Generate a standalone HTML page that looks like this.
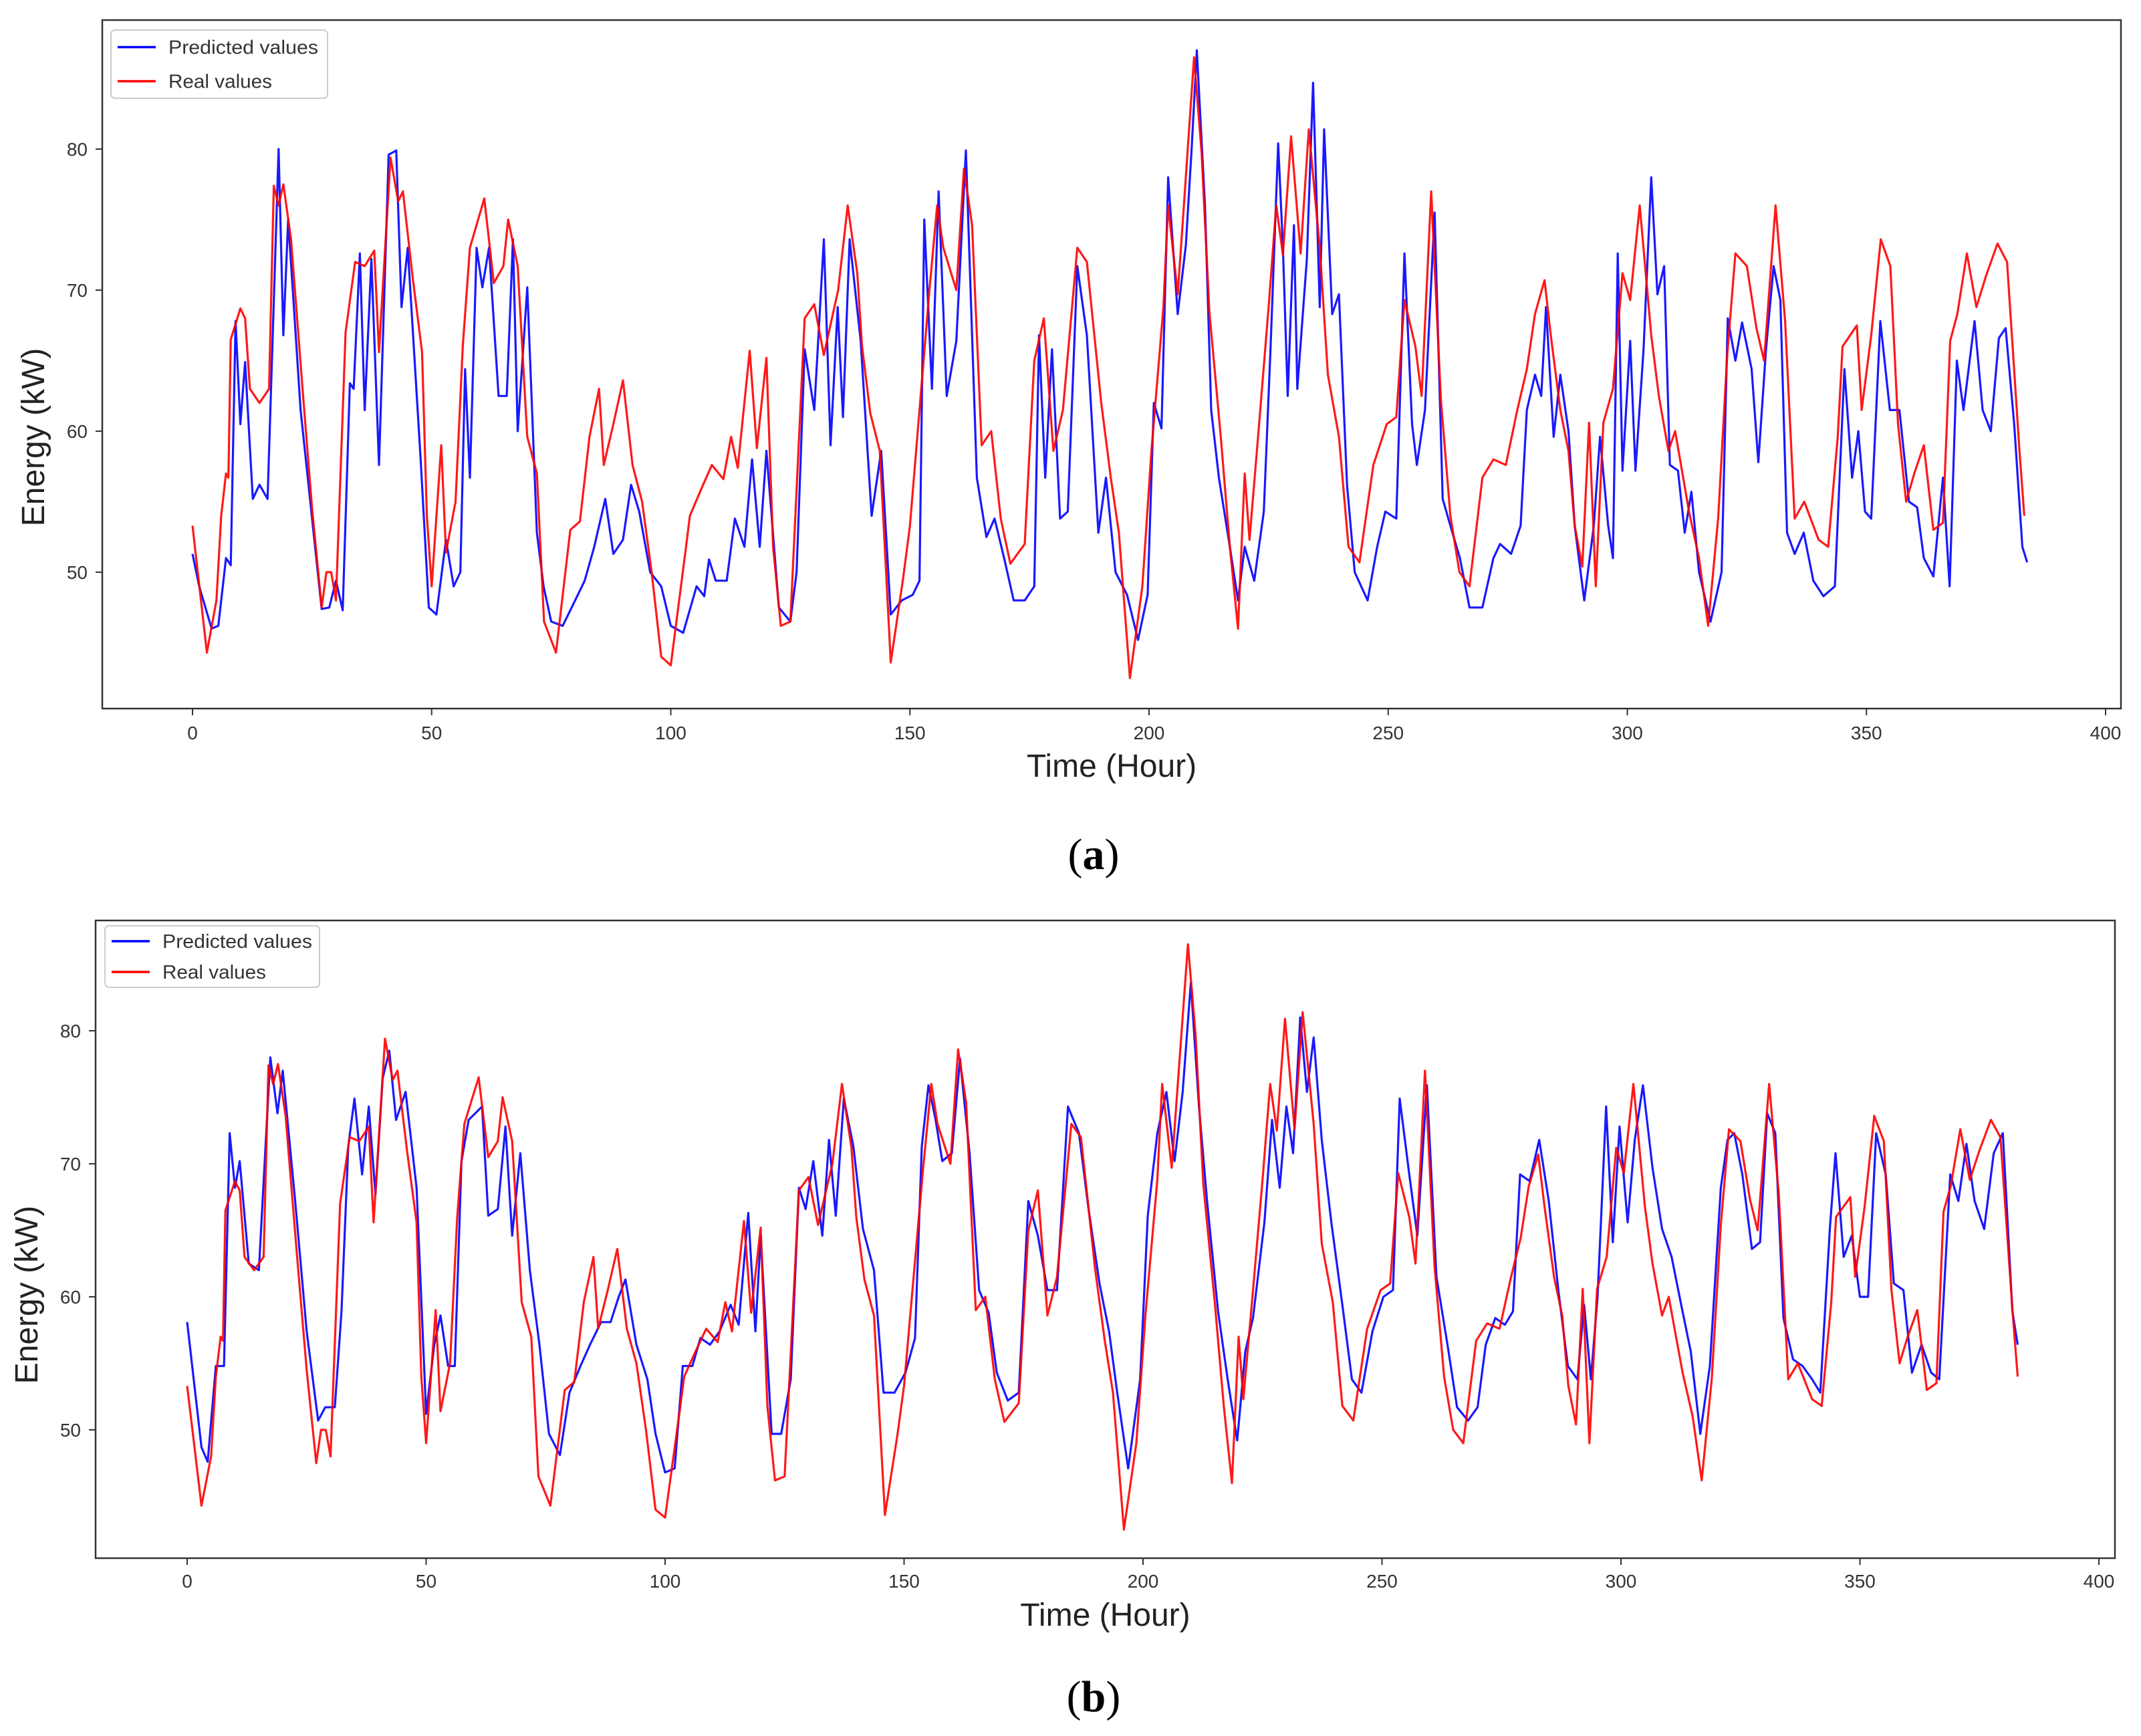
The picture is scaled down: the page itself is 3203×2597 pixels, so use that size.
<!DOCTYPE html>
<html><head><meta charset="utf-8">
<style>
html,body{margin:0;padding:0;background:#fff;}
svg{display:block;}
text{font-family:"Liberation Sans","DejaVu Sans",sans-serif;}
text.cap{font-family:"Liberation Serif",serif;}
</style></head>
<body>
<svg id="root" width="3203" height="2597" viewBox="0 0 3203 2597" xmlns="http://www.w3.org/2000/svg">
<rect width="3203" height="2597" fill="#fff"/>
</svg>
<script>
// ---- data ----
const xTicks = [0,50,100,150,200,250,300,350,400];
const yTicks = [50,60,70,80];
const realT = [0,3,5,6,7,7.5,8,10,11,12,14,16,17,18,19,20.6,23,25,27,28,29,30,32,34,36,38,39,41.4,43,44,46,48,49,50,52,53,55,56.5,58,61,63,65,66,68,70,72,73.5,76,79,81,83,85,86,88,90,92,94,96,98,100,103,104,106.5,108.6,111,112.6,114,116.5,118,120,121.4,123,125,128,130,132,135,137,139,140,141.7,143.7,146,148.6,150,152,154,155.7,157,159.7,161.3,163,165,167,169,171,174,176,178,180,182,185,187,190,192,193.7,196,198.6,200.5,203,204,206,207,209.4,211,212.6,215,216.9,218.6,220,221,222.9,225,226.6,228,229.7,231.7,233.4,235.7,237.4,239.7,241.7,244,246.9,249.7,251.7,253.4,255.7,257,259,261,263,264.9,267,269.7,272,274.6,277,279,280.7,282.7,284,286,287.7,289,290.6,292,293.4,295,297,299,300.6,302.6,305,306.6,308.6,310,312.9,315,316.9,319,320.9,322.6,325,327,328.6,331,333,335,337,340,342,344,345,348,349,351,353,355,356.6,358.3,360,362,364,366,367.5,369,371,373,375,377.4,379.4,382,383];
const realV = [53.3,44.3,48,54,57,56.7,66.5,68.7,68,63,62,63,77.4,76,77.5,73.6,63,54.5,47.5,50,50,48,67,72,71.7,72.8,65.6,79.4,76.3,77,71,65.6,54,49,59,51.4,55,66,73,76.5,70.5,71.7,75,71.7,59.6,57,46.5,44.3,53,53.6,59.6,63,57.6,60.5,63.6,57.6,55,50,44,43.4,51.3,54,56,57.6,56.6,59.6,57.4,65.7,58.8,65.2,51.8,46.2,46.5,68,69,65.4,70,76,71.2,66,61.3,58.6,43.6,49.6,53.3,61.5,69.7,76,73,70,78.6,74.6,59,60,53.8,50.6,52,65,68,58.6,61.5,73,72,62,56.7,52.8,42.5,49,58.6,68.8,76,69.7,74.6,86.5,79.7,68.5,59.6,51.8,46,57,52.3,60,68.8,76,72.5,80.9,72.6,81.4,73,64,59.6,51.8,50.7,57.6,60.5,61,69.3,66,62.5,77,62.3,54,50,49,56.7,58,57.6,61.5,64.4,68.3,70.7,66.8,61.5,58.6,53.3,50.4,60.6,49,60.6,63,71.2,69.3,76,66.8,62.5,58.6,60,54.3,51,46.2,53.8,65.4,72.6,71.7,67.3,65,76,67.8,53.8,55,52.3,51.8,59.6,66,67.5,61.5,66.8,73.6,71.7,60.5,55,57,59,53,53.5,66.4,68.3,72.6,68.8,71,73.3,72,58.6,54];
const predAT = [0,1.4,4,5.4,7,8,9,10,11,12.6,14,15.7,18,19,20,22.6,25,27,28.6,30,31.4,32.9,33.7,35,36,37.4,39,41,42.6,43.7,45,47.7,49.4,51,53,54.6,56,57,58,59.4,60.6,62,64,65.7,67,68,70,72,73.4,75,77.4,80,82,84,86.3,88,90,91.7,93.4,95.7,98,100,102.6,105.4,107,108,109.4,111.7,113.4,115.4,117,118.6,120,122.6,125,126.3,128,130,132,133.4,134.9,136,137.4,139.7,142,144,146,148.3,150.6,152,153,154.6,156,157.7,159.7,161.7,164,166,167.7,169.7,171.7,174,176,177,178.3,179.7,181.4,183,185,187,189.4,191,193,195.4,197.7,199.7,201,202.6,204,206,207.7,208.9,210,211.7,213,214.6,216.9,218.6,220,222,224,225.4,227,228,229,230.3,231,233,234.3,235.7,236.6,238.3,239.7,241.4,243,245.7,247.7,249.4,251.7,253.4,255,256,257.7,259.7,261.4,263,265,267,269.7,272,273.4,275.7,277.7,279,280.7,282,283,284.6,286,287.7,289,291,293,294.3,296,297,298,299,300.6,301.7,303.4,305,306.3,307.7,308.9,310.6,312,313.4,315,317.4,319.7,321,322.6,324,326,327.4,329,330.6,332,333.4,335,336.9,338.9,341,343.4,345.4,347,348.3,349.7,351,352.9,354.9,356.9,358.9,360.6,362,364,366,367.4,368.9,370.3,372.6,374.3,376,377.7,379.1,380.9,382.6,383.6];
const predAV = [51.3,49,46,46.2,51,50.5,67.8,60.5,64.9,55.2,56.2,55.2,80,66.8,75,61.5,53.8,47.4,47.5,49.4,47.3,63.4,63,72.6,61.5,72.2,57.6,79.6,79.9,68.8,73,58,47.5,47,52.3,49,50,64.4,56.7,73,70.2,73,62.5,62.5,73.6,60,70.2,52.8,49,46.5,46.2,48,49.4,51.8,55.2,51.3,52.3,56.2,54.3,50,49,46.2,45.7,49,48.3,50.9,49.4,49.4,53.8,51.8,58,51.8,58.6,47.5,46.5,50,65.8,61.5,73.6,59,68.8,61,73.6,66.4,54,58.6,47,48,48.4,49.4,75,63,77,62.5,66.4,79.9,56.7,52.5,53.8,51,48,48,49,66.8,56.7,65.8,53.8,54.3,71.7,66.8,52.8,56.7,50,48.4,45.2,48.4,62,60.2,78,68.3,73.2,80,87,76,61.5,56.7,51.8,48,51.8,49.4,54.3,65.8,80.4,73,62.5,74.6,63,72.2,84.7,68.8,81.4,68.3,69.7,56.2,50,48,51.8,54.3,53.8,72.6,60.5,57.6,61.5,75.5,55.2,53.3,51,47.5,47.5,51,52,51.3,53.3,61.5,64,62.5,68.8,59.6,64,60,53.3,48,53.3,59.6,53.3,51,72.6,57.2,66.4,57.2,65.8,78,69.7,71.7,57.6,57.2,52.8,55.7,50,46.5,50,68,65,67.7,64.4,57.8,65.8,71.7,69.3,52.8,51.3,52.8,49.4,48.3,49,64.4,56.7,60,54.3,53.8,67.8,61.5,61.5,55,54.6,51,49.7,56.7,49,65,61.5,67.8,61.5,60,66.6,67.3,60.5,51.8,50.7];
const predBT = [0,3,4.3,6,7.7,8.9,10,11,12.9,15,17.4,18.9,20,22.6,25,27.4,28.9,30.9,32.3,33.7,35,36.6,38,39.4,40.9,42.3,43.7,45.7,48,50,51.7,53,54.6,56,57.4,58.9,60.3,61.7,63,65,66.6,68,69.7,71.7,73.7,75.7,78,80,82.3,84.3,86.6,88.6,90.3,91.7,94,96.3,98,100,102,103.7,105.7,107.4,109.4,111.4,113.7,115.4,117.4,118.9,120,122.3,124.3,126.3,128,129.4,131,132.9,134.3,135.7,137.4,139.4,141.4,143.7,145.7,148,150.3,152.3,153.7,155.1,156.6,158,160,161.7,163.7,165.7,167.7,169.4,171.7,174,176,178,180,182,184.3,186.6,188.6,190.9,192.9,194.6,196.9,199.4,201,203,204.9,206.6,208.3,210,211.7,213.4,215.7,217.7,219.7,221.4,223,225.4,227,228.6,230,231.4,232.9,234.3,235.7,237.4,239.4,241.7,243.7,245.7,248,250.3,252.3,253.7,255.7,257.4,259.4,261.4,263.7,265.7,268,270,271.7,273.7,275.7,277.4,278.9,280.9,282.9,284.9,286.9,288.9,290.9,292.3,293.7,295.1,296.9,298.3,299.7,301.4,302.9,304.6,306.6,308.6,310.6,312.6,314.6,316.6,318.6,320.9,322.3,323.7,325.4,327.4,329.1,330.6,332.3,334,336,338,340,341.7,343.7,344.9,346.6,348.3,350,351.7,353.4,355.4,357.1,359.1,360.9,362.9,364.9,366.6,368.9,370.6,372.3,374,376,378,379.9,381.9,383];
const predBV = [58.1,48.7,47.6,54.8,54.8,72.3,68.2,70.2,62.5,62,78,73.8,77,67.2,57.4,50.7,51.7,51.7,58.9,71.3,74.9,69.2,74.3,67.7,76.4,78.5,73.3,75.4,68.2,51.2,56.4,58.6,54.8,54.8,70.2,73.3,73.8,74.3,66.1,66.6,72.8,64.6,70.8,62,56.4,49.7,48.1,52.8,54.8,56.4,58.1,58.1,60,61.3,56.4,53.8,49.7,46.8,47.1,54.8,54.8,56.9,56.4,57.4,59.4,57.9,66.3,57.4,64.6,49.7,49.7,53.8,68.2,66.6,70.2,64.6,71.8,66.1,74.9,71.3,65.1,62,52.8,52.8,54.3,56.9,71.3,75.9,73.3,70.2,70.8,77.9,70.8,60.5,58.8,54.3,52.2,52.8,67.2,64.6,60.5,60.5,74.3,72.3,66.6,61,57.4,52.8,47.1,53.8,66.1,72.3,75.4,70.2,75.4,83.6,74.3,67.2,58.9,53.8,49.2,55.9,58.4,65.6,73.3,68.2,74.3,70.8,81,75.4,79.5,71.8,65.6,59.4,53.8,52.8,57.4,60,60.5,74.9,69.2,64.6,75.9,61.5,56.4,51.7,50.7,51.7,56.4,58.4,57.9,58.9,69.2,68.7,71.8,67.2,60.5,54.8,53.8,59.4,53.8,60,74.3,64.1,72.8,65.6,71.8,75.9,69.7,65.1,63,59.4,55.9,49.7,54.8,68.2,71.8,72.3,69.2,63.6,64.1,73.8,72.3,58.4,55.3,54.8,53.8,52.8,65.1,70.8,63,64.6,60,60,72.3,69.2,61,60.5,54.3,56.4,54.3,53.8,69.2,67.2,71.5,67.2,65.1,70.8,72.3,58.9,56.4];

const NS = "http://www.w3.org/2000/svg";
const root = document.getElementById('root');
function mk(tag, attrs, parent){
  const e = document.createElementNS(NS, tag);
  for (const k in attrs) e.setAttribute(k, attrs[k]);
  (parent||root).appendChild(e);
  return e;
}

const panels = [
  {id:'a', box:[153,30,3173,1060], x0:288, x400:3150, y80:223, y50:856, pred:[predAT,predAV],
   tickLabelRight:131, xLabelY:1106, xTitleY:1162, yTitleX:66, yTitleY:654, capY:1300,
   legend:[166,45,490,147]},
  {id:'b', box:[143,1377,3164,2331], x0:280, x400:3140, y80:1542, y50:2139, pred:[predBT,predBV],
   tickLabelRight:121, xLabelY:2375, xTitleY:2432, yTitleX:56, yTitleY:1937, capY:2560,
   legend:[157,1385,478,1477]}
];

panels.forEach(p=>{
  const g = mk('g',{});
  
  
  const xs = v => p.x0 + (v/400)*(p.x400-p.x0);
  const ys = v => p.y50 - (v-50)/30*(p.y50-p.y80);
  const [L,T,R,B] = p.box;

  function line(ts, vs, color, name){
    let d = '';
    for (let i=0;i<ts.length;i++) d += (i?'L':'M') + xs(ts[i]).toFixed(1) + ',' + ys(vs[i]).toFixed(1);
    const pth = mk('path',{d:d, fill:'none', stroke:color, 'stroke-width':3.2, 'stroke-linejoin':'round', 'stroke-opacity':0.9}, g);
    
    
  }
  line(p.pred[0], p.pred[1], '#0000ff', 'predicted-line-'+p.id);
  line(realT, realV, '#ff0000', 'real-line-'+p.id);

  const fr = mk('rect',{x:L,y:T,width:R-L,height:B-T,fill:'none',stroke:'#333','stroke-width':2.5}, g);
  
  

  xTicks.forEach(v=>{
    const x = xs(v);
    mk('line',{x1:x,y1:B,x2:x,y2:B+10,stroke:'#333','stroke-width':2}, g);
    const t = mk('text',{x:x,y:p.xLabelY,'font-size':28,'text-anchor':'middle',fill:'#333'}, g);
    t.textContent = v;
    
    
  });
  yTicks.forEach(v=>{
    const y = ys(v);
    mk('line',{x1:L-10,y1:y,x2:L,y2:y,stroke:'#333','stroke-width':2}, g);
    const t = mk('text',{x:p.tickLabelRight,y:y+10,'font-size':28,'text-anchor':'end',fill:'#333'}, g);
    t.textContent = v;
    
    
  });

  const xt = mk('text',{x:(L+R)/2,y:p.xTitleY,'font-size':48,'text-anchor':'middle',fill:'#222'}, g);
  xt.textContent = 'Time (Hour)';
  
  
  const yt = mk('text',{x:p.yTitleX,y:p.yTitleY,'font-size':48,'text-anchor':'middle',fill:'#222',transform:'rotate(-90 '+p.yTitleX+' '+p.yTitleY+')'}, g);
  yt.textContent = 'Energy (kW)';
  
  

  const [lx,ly,lr,lb] = p.legend;
  const lg = mk('g',{}, g);
  
  
  mk('rect',{x:lx,y:ly,width:lr-lx,height:lb-ly,rx:6,fill:'#fff','fill-opacity':0.9,stroke:'#ccc','stroke-width':2}, lg);
  const rowH = (lb-ly)/2;
  [['Predicted values','#0000ff'],['Real values','#ff0000']].forEach((e,i)=>{
    const cy = ly + rowH*(i+0.5);
    const ent = mk('g',{}, lg);
    
    
    mk('line',{x1:lx+10,y1:cy,x2:lx+67,y2:cy,stroke:e[1],'stroke-width':3.5}, ent);
    const t = mk('text',{x:lx+86,y:cy+10,'font-size':29,fill:'#333',textLength:(i?155:224),lengthAdjust:'spacingAndGlyphs'}, ent);
    t.textContent = e[0];
  });

  const cap = mk('text',{x:1636,y:p.capY,'font-size':66,'text-anchor':'middle',fill:'#000','class':'cap'});
  cap.innerHTML = '(<tspan font-weight="bold">'+p.id+'</tspan>)';
  
  
});
</script>
</body></html>
